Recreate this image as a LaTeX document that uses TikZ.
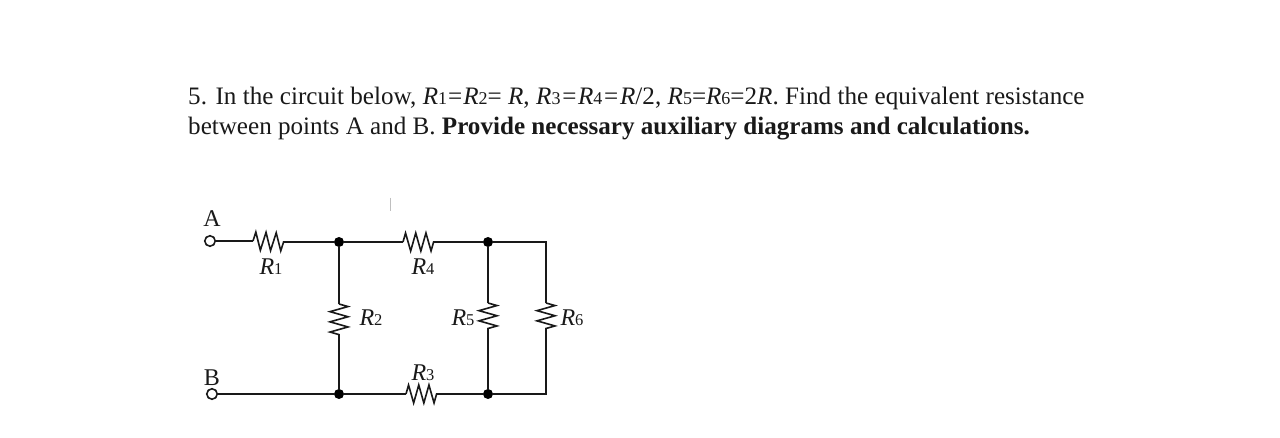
\documentclass[tikz,border=0pt]{standalone}
\usepackage{fontspec}
\setmainfont{Liberation Serif}
\usetikzlibrary{decorations.pathmorphing}
\newcommand{\Tsub}[1]{\textit{R}{\fontsize{16.5}{17}\selectfont #1}}
\newcommand{\Hsub}[1]{\textit{R}{\fontsize{18}{19}\selectfont #1}}
\newcommand{\eqk}{\kern1pt=\kern1pt}
\newcommand{\eqm}{\kern1.75pt=\kern1.75pt}
\tikzset{
  x=1pt,y=-1pt,
  wire/.style={draw=black!90,line width=2.1pt},
  thinwire/.style={draw=black!90,line width=1.7pt},
  zig/.style={draw=black!90,line width=1.6pt,line join=miter,decorate,decoration={zigzag,segment length=10.2pt,amplitude=9pt}},
  term/.style={circle,draw=black!90,line width=1.6pt,fill=white,minimum size=10.5pt,inner sep=0pt},
  dot/.style={circle,fill=black,minimum size=10pt,inner sep=0pt},
  txt/.style={font=\fontsize{25.1}{30}\selectfont,anchor=base west,inner sep=0pt,text=black!90},
  lab/.style={font=\fontsize{24}{26}\selectfont,anchor=base,inner sep=0pt,text=black!90}
}
\begin{document}
\begin{tikzpicture}
\useasboundingbox[fill=white] (0,0) rectangle (1280,438);
\node[txt] (l1) at (188,105) {\spaceskip=6.4pt plus 0pt 5. In the circuit below, \Hsub{1}\eqk\Hsub{2}= \textit{R}, \Hsub{3}\eqm\Hsub{4}\eqm\textit{R}/2, \Hsub{5}=\Hsub{6}=2\textit{R}. Find the equivalent resistance};
\node[txt] (l2) at (188,135) {between points A and B. \textbf{Provide necessary auxiliary diagrams and calculations.}};
% nodes
\node[term] (A) at (210,241) {};
\node[term] (B) at (212,394) {};
\node[dot] (J1) at (339,242) {};
\node[dot] (J2) at (488,242) {};
\node[dot] (J3) at (339,394) {};
\node[dot] (J4) at (488,394) {};
\coordinate (TR) at (546,242);
\coordinate (BR) at (546,394);
\coordinate (r1a) at (253,241); \coordinate (r1b) at (284,242);
\coordinate (r4a) at (403,242); \coordinate (r4b) at (435,242);
\coordinate (r3a) at (406,394); \coordinate (r3b) at (437,394);
\coordinate (r2a) at (339,304); \coordinate (r2b) at (339,335);
\coordinate (r5a) at (488,303); \coordinate (r5b) at (488,333);
\coordinate (r6a) at (546,303); \coordinate (r6b) at (546,333);
% wires
\draw[thinwire] (A) -- (r1a);
\draw[wire] (r1b) -- (J1) -- (r4a);
\draw[wire] (r4b) -- (J2);
\draw[thinwire] (J2) -- (TR) -- (r6a);
\draw[thinwire] (r6b) -- (BR) -- (J4);
\draw[wire] (B) -- (J3) -- (r3a);
\draw[wire] (r3b) -- (J4);
\draw[wire] (J1) -- (r2a);
\draw[wire] (r2b) -- (J3);
\draw[wire] (J2) -- (r5a);
\draw[wire] (r5b) -- (J4);
% resistors
\draw[zig] (r1a) -- (r1b);
\draw[zig] (r4a) -- (r4b);
\draw[zig] (r3a) -- (r3b);
\draw[zig] (r2a) -- (r2b);
\draw[zig] (r5a) -- (r5b);
\draw[zig] (r6a) -- (r6b);
% labels
\node[lab] (tA) at (212,227) {A};
\node[lab] (tB) at (212,385) {B};
\node[lab] (t1) at (271,275) {\Tsub{1}};
\node[lab] (t4) at (423,275) {\Tsub{4}};
\node[lab] (t2) at (371,326) {\Tsub{2}};
\node[lab] (t5) at (463,326) {\Tsub{5}};
\node[lab] (t6) at (572,326) {\Tsub{6}};
\node[lab] (t3) at (423,380) {\Tsub{3}};
% faint tick
\draw[black!25,line width=0.8pt] (390,198) -- (390,211);
\end{tikzpicture}
\end{document}
